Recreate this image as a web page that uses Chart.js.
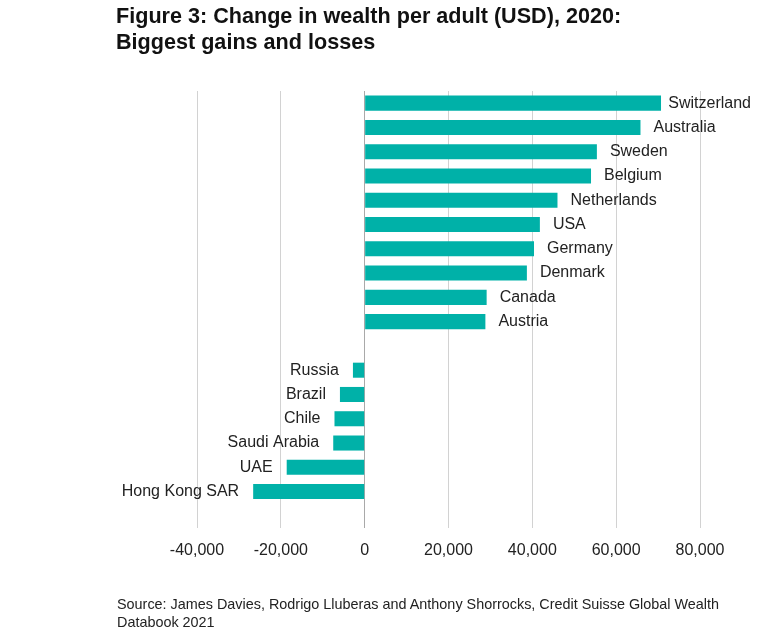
<!DOCTYPE html>
<html>
<head>
<meta charset="utf-8">
<script src="https://cdn.jsdelivr.net/npm/chart.js@4/dist/chart.umd.min.js"></script>
<style>
  html, body { margin: 0; padding: 0; background: #ffffff; }
  body { width: 768px; height: 635px; position: relative; overflow: hidden; font-family: "Liberation Sans", Arial, Helvetica, sans-serif; }
  #wrap { position: absolute; left: 0; top: 0; width: 768px; height: 635px; }
  #title { position: absolute; left: 116px; top: 3px; font-weight: bold; font-size: 21.6px; line-height: 26px; color: #111; white-space: nowrap; }
  #source { position: absolute; left: 117px; top: 595px; font-size: 14.4px; line-height: 18px; color: #222; white-space: nowrap; }
</style>
</head>
<body>
<div id="wrap"><canvas id="c" width="768" height="635"></canvas></div>
<div id="title">Figure 3: Change in wealth per adult (USD), 2020:<br>Biggest gains and losses</div>
<div id="source">Source: James Davies, Rodrigo Lluberas and Anthony Shorrocks, Credit Suisse Global Wealth<br>Databook 2021</div>
<script>
// Data
const gainers = ['Switzerland', 'Australia', 'Sweden', 'Belgium', 'Netherlands', 'USA', 'Germany', 'Denmark', 'Canada', 'Austria'];
const gainValues = [70700, 65800, 55400, 54000, 46000, 41800, 40400, 38700, 29100, 28800];
const losers = ['Russia', 'Brazil', 'Chile', 'Saudi Arabia', 'UAE', 'Hong Kong SAR'];
const lossValues = [-2800, -5900, -7200, -7500, -18600, -26600];
const xTicks = [-40000, -20000, 0, 20000, 40000, 60000, 80000];

// Build category list with a blank slot between groups and one at the end
const categories = [...gainers, '', ...losers, ' '];
const values = [...gainValues, null, ...lossValues, null];

const BAR_COLOR = '#00B1A8';
const LABEL_FONT = '16px "Liberation Sans", Arial, Helvetica, sans-serif';

const barLabels = {
  id: 'barLabels',
  afterDatasetsDraw(chart) {
    const ctx = chart.ctx;
    const meta = chart.getDatasetMeta(0);
    ctx.save();
    ctx.font = LABEL_FONT;
    ctx.fillStyle = '#222222';
    ctx.textBaseline = 'middle';
    meta.data.forEach((bar, i) => {
      const v = values[i];
      if (v === null || v === undefined) return;
      const label = categories[i];
      const w = ctx.measureText(label).width;
      if (v >= 0) {
        let x = bar.x + 13;
        const limit = chart.width - 17;
        if (x + w > limit) x = Math.max(bar.x + 6, limit - w);
        ctx.textAlign = 'left';
        ctx.fillText(label, x, bar.y);
      } else {
        ctx.textAlign = 'right';
        ctx.fillText(label, bar.x - 14, bar.y);
      }
    });
    ctx.restore();
  }
};

new Chart(document.getElementById('c'), {
  type: 'bar',
  data: {
    labels: categories,
    datasets: [{
      data: values,
      backgroundColor: BAR_COLOR,
      borderWidth: 0,
      barPercentage: 0.62,
      categoryPercentage: 1.0
    }]
  },
  options: {
    indexAxis: 'y',
    responsive: false,
    animation: false,
    events: [],
    layout: { padding: { left: 197, right: 68, top: 91, bottom: 77 } },
    plugins: {
      legend: { display: false },
      title: { display: false },
      tooltip: { enabled: false }
    },
    scales: {
      x: {
        type: 'linear',
        min: -40000,
        max: 80000,
        afterBuildTicks(scale) { scale.ticks = xTicks.map(v => ({ value: v })); },
        afterFit(scale) { scale.height = 30; },
        border: { display: false },
        grid: {
          drawTicks: false,
          lineWidth: 1,
          color: (c) => (c.tick && c.tick.value === 0) ? '#a9a9a9' : '#d2d2d2'
        },
        ticks: {
          padding: 13,
          color: '#222222',
          font: { family: '"Liberation Sans", Arial, Helvetica, sans-serif', size: 16 },
          maxRotation: 0,
          autoSkip: false,
          callback: (v) => v.toLocaleString('en-US')
        }
      },
      y: {
        display: false,
        grid: { display: false }
      }
    }
  },
  plugins: [barLabels]
});
</script>
</body>
</html>
